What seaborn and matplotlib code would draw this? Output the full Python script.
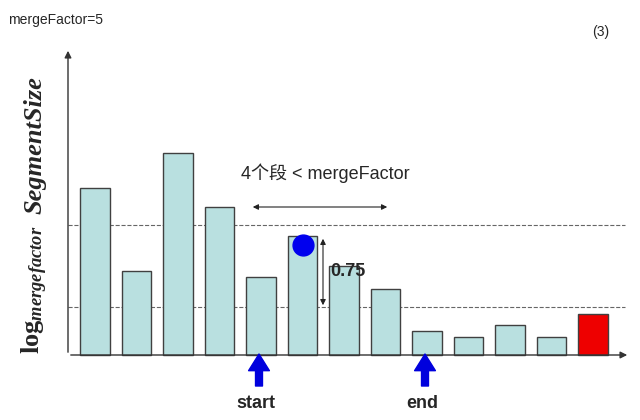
import numpy as np
import pandas as pd
import seaborn as sns
import matplotlib.pyplot as plt

# segment sizes (log scale, arbitrary units)
segments = [str(i) for i in range(1, 14)]
sizes = [167, 84, 202, 148, 78, 119, 89, 66, 24, 18, 30, 18, 41]
colors = ['#b9e0e0'] * 12 + ['#ee0000']
levels = [130, 48]

sns.set_style('white')
plt.rcParams['font.family'] = ['Liberation Sans', 'Noto Sans CJK SC', 'DejaVu Sans']
plt.rcParams['mathtext.fontset'] = 'custom'
plt.rcParams['mathtext.rm'] = 'Liberation Serif'
plt.rcParams['mathtext.it'] = 'Liberation Serif:italic:bold'
plt.rcParams['mathtext.bf'] = 'Liberation Serif:bold'

fig = plt.figure(figsize=(6.4, 4.2), dpi=100)
ax = fig.add_axes([0, 0, 1, 1])
df = pd.DataFrame({'seg': segments, 'size': sizes})
sns.barplot(data=df, x='seg', y='size', hue='seg', palette=colors, legend=False,
            width=0.72, edgecolor='#404040', linewidth=1, saturation=1, ax=ax)

# pixel -> data helpers
def X(px):
    return (px - 95) / 41.5

def Y(py):
    return 355 - py

ax.set_xlim(X(0), X(640))
ax.set_ylim(Y(420), Y(0))
ax.axis('off')

# axes with arrows
ax.annotate('', xy=(X(68), Y(48)), xytext=(X(68), Y(355)),
            arrowprops=dict(arrowstyle='-|>', color='#333333', lw=1))
ax.annotate('', xy=(X(630), Y(355)), xytext=(X(68), Y(355)),
            arrowprops=dict(arrowstyle='-|>', color='#333333', lw=1))

for lv in levels:
    ax.plot([X(68), X(625)], [lv, lv], ls='--', color='#666666', lw=0.8, zorder=0)

ax.text(X(8), Y(20), 'mergeFactor=5', fontsize=10, va='center')
ax.text(X(592), Y(32), '(3)', fontsize=10, va='center')

ax.text(X(35), Y(290), r'$\mathbf{log}_{\mathit{mergefactor}}$', rotation=90,
        fontsize=19, ha='center', va='center')
ax.text(X(35), Y(145), 'SegmentSize', rotation=90, fontsize=19, family='Liberation Serif',
        fontweight='bold', style='italic', ha='center', va='center')

ax.text(X(325), Y(173), '4个段 < mergeFactor', fontsize=13, ha='center', va='center')
ax.annotate('', xy=(X(250), Y(207)), xytext=(X(390), Y(207)),
            arrowprops=dict(arrowstyle='<|-|>', color='#222222', lw=0.8, mutation_scale=8))
ax.annotate('', xy=(X(323), Y(236)), xytext=(X(323), Y(308)),
            arrowprops=dict(arrowstyle='<|-|>', color='#222222', lw=0.8, mutation_scale=8))
ax.text(X(330), Y(271), '0.75', fontsize=13, fontweight='bold', va='center')
ax.plot([X(303)], [Y(245)], 'o', color='#0000ee', ms=15)

for px, lab in [(259, 'start'), (425, 'end')]:
    ax.annotate('', xy=(X(px), Y(354)), xytext=(X(px), Y(386)),
                arrowprops=dict(width=5, headwidth=15, headlength=12, color='#0000dd'))
    ax.text(X(px - 3), Y(403), lab, fontsize=13, fontweight='bold', ha='center', va='center')

fig.savefig('out.png', dpi=100)
